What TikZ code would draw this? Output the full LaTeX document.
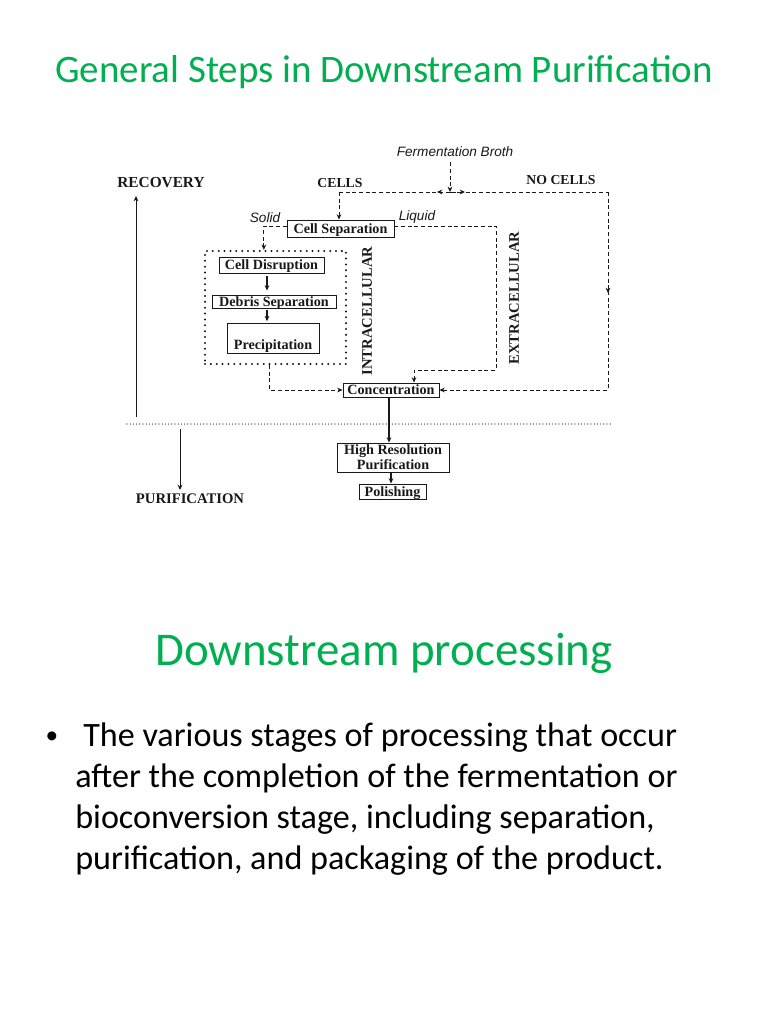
\documentclass[tikz,border=0pt]{standalone}
\usepackage{fontspec}
\setmainfont{Carlito}
\newfontfamily\dserif{Liberation Serif}
\newfontfamily\dsans{Liberation Sans}
\usetikzlibrary{arrows.meta,calc}
\definecolor{ttlgreen}{RGB}{0,176,80}
\definecolor{ink}{RGB}{25,25,25}
\begin{document}
\begin{tikzpicture}[x=0.75pt,y=-0.75pt,
  box/.style={draw=ink, line width=0.7pt, inner sep=0pt, text=ink, text height=8.2pt, text depth=1pt, font=\dserif\bfseries\fontsize{10.6}{11.5}\selectfont},
  lbl/.style={text=ink, inner sep=0pt, font=\dserif\bfseries\fontsize{11}{13}\selectfont},
  ital/.style={text=ink, inner sep=0pt, font=\dsans\itshape\fontsize{10.2}{12}\selectfont},
  dsh/.style={draw=ink, dash pattern=on 3pt off 2pt, line width=0.6pt},
  sld/.style={draw=ink, line width=0.9pt},
  arr/.style={-{Stealth[length=4pt,width=3.6pt]}},
  dotbox/.style={draw=ink, line width=1.7pt, line cap=round, dash pattern=on 0pt off 4.4pt, inner sep=0pt},
  body/.style={text=black, inner sep=0pt, font=\fontsize{25.6}{30}\selectfont}
]
\useasboundingbox (0,0) rectangle (768,1024);
\fill[white] (0,0) rectangle (768,1024);

% titles
\node[anchor=base, inner sep=0pt, text=ttlgreen, font=\fontsize{29.2}{34}\selectfont] (title) at (384,83) {General Steps in Downstream Purification};
\node[anchor=base, inner sep=0pt, text=ttlgreen, font=\fontsize{35.2}{40}\selectfont] (head) at (384,665) {Downstream processing};

% body
\node[body, anchor=center, font=\fontsize{19}{22}\selectfont] (bul) at (52,738) {•};
\node[body, anchor=base west] (b1) at (83,746) {The various stages of processing that occur};
\node[body, anchor=base west] (b2) at (75,787) {after the completion of the fermentation or};
\node[body, anchor=base west] (b3) at (75,828) {bioconversion stage, including separation,};
\node[body, anchor=base west] (b4) at (75,869) {purification, and packaging of the product.};

% diagram labels
\node[ital, anchor=base] (broth) at (455,156) {Fermentation Broth};
\node[lbl, anchor=base, font=\dserif\bfseries\fontsize{11.5}{13}\selectfont] (rec) at (161,187) {RECOVERY};
\node[lbl, anchor=base, font=\dserif\bfseries\fontsize{10.3}{13}\selectfont] (cells) at (340,187) {CELLS};
\node[lbl, anchor=base, font=\dserif\bfseries\fontsize{10.3}{13}\selectfont] (nocells) at (561,184) {NO CELLS};
\node[ital, anchor=base] (solid) at (265,222) {Solid};
\node[ital, anchor=base] (liquid) at (417,220) {Liquid};
\node[lbl, anchor=base] (pur) at (190,503) {PURIFICATION};
\node[lbl, rotate=90] (intra) at (367,311) {INTRACELLULAR};
\node[lbl, rotate=90] (extra) at (514,298) {EXTRACELLULAR};

% boxes
\node[box, minimum width=107*0.75, minimum height=17*0.75] (cs) at (340.5,228.5) {Cell Separation};
\node[dotbox, minimum width=141*0.75, minimum height=113*0.75] (ibox) at (275.5,307.5) {};
\node[box, minimum width=105*0.75, minimum height=16*0.75] (cd) at (271.5,265) {Cell Disruption};
\node[box, minimum width=124*0.75, minimum height=13*0.75] (ds) at (274,301.5) {Debris Separation};
\node[box, minimum width=92*0.75, minimum height=30*0.75] (pr) at (273,338) {};
\node[box, draw=none, text height=, text depth=, anchor=base] (prt) at (273,349) {Precipitation};
\node[box, minimum width=96*0.75, minimum height=14*0.75] (co) at (391,390) {Concentration};
\node[box, minimum width=112*0.75, minimum height=29*0.75, align=center, text height=, text depth=] (hr) at (393,457.5) {High Resolution\\Purification};
\node[box, minimum width=67*0.75, minimum height=15*0.75] (po) at (392.5,491.5) {Polishing};

% coordinates
\coordinate (J) at (450,192);
\coordinate (cl) at (339,192);
\coordinate (nc1) at (608,192);
\coordinate (nc2) at (608,390);
\coordinate (lq1) at (496,226);
\coordinate (lq2) at (496,370);
\coordinate (lq3) at (414,370);
\coordinate (recb) at (136,417);
\coordinate (rect) at (136,196);
\coordinate (purt) at (180,429);
\coordinate (purb) at (180,490);
\coordinate (divl) at (127,424);
\coordinate (divr) at (612,424);

% feed
\draw[dsh, arr] (broth.south) ++(-5,6) -- (J);
\draw[dsh] (cl) -- (nc1);
\draw[dsh, arr] (J) -- ++(-13,0);
\draw[dsh, arr] (J) -- ++(15,0);
\draw[dsh, arr] (cl) -- (cs.north -| cl);
\draw[dsh, arr] (nc1) -- ($(nc1)!0.51!(nc2)$);
\draw[dsh, arr] ($(nc1)!0.5!(nc2)$) -- (nc2) -- (co.east);

% solid / liquid
\draw[dsh, arr] (cs.west |- 0,226) -| ($(ibox.north west)+(60,0)$);
\draw[dsh, arr] (cs.east |- lq1) -- (lq1) -- (lq2) -- (lq3) -- (lq3 |- co.north);
\draw[dsh, arr] ($(ibox.south)+(-6,0)$) |- (co.west);

% intracellular chain
\draw[sld, arr, shorten <=2pt, shorten >=3pt] (cd.south -| 267,0) -- (ds.north -| 267,0);
\draw[sld, arr, shorten <=1pt, shorten >=1pt] (ds.south -| 267,0) -- (pr.north -| 267,0);

% purification chain
\draw[sld, arr] (co.south -| 389,0) -- (hr.north -| 389,0);
\draw[sld, arr] (hr.south -| 391,0) -- (po.north -| 391,0);

% recovery / purification axis
\draw[sld, line width=0.7pt, arr] (recb) -- (rect);
\draw[ink, line width=0.9pt, line cap=round, dash pattern=on 0pt off 2.4pt] (divl) -- (divr);
\draw[sld, line width=0.7pt, arr] (purt) -- (purb);
\end{tikzpicture}
\end{document}
